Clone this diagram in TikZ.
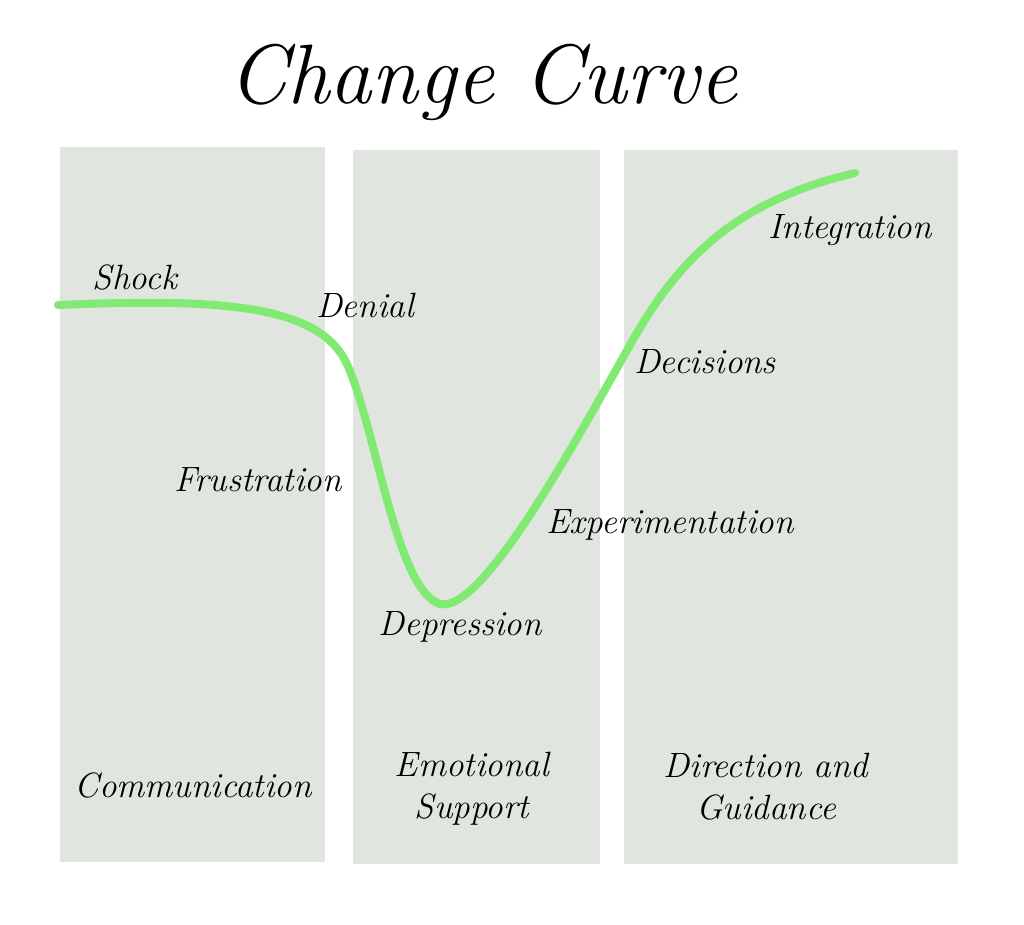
\documentclass[tikz,border=0pt]{standalone}
\begin{document}
\begin{tikzpicture}[x=0.02cm,y=-0.02cm,
  panel/.style={fill=panelc,draw=none},
  lbl/.style={font=\itshape\fontsize{20}{24}\selectfont,align=center},
  curve/.style={draw=curvec,line width=0.16cm,line cap=round}]
\definecolor{panelc}{HTML}{E1E5DF}
\definecolor{curvec}{HTML}{80EA72}
\useasboundingbox[fill=white] (0,0) rectangle (1024,924);
\fill[panel] (60,147) rectangle (325,862);
\fill[panel] (353,150) rectangle (600,864);
\fill[panel] (624,150) rectangle (958,864);
\node (title) at (483,82) {\itshape\fontsize{48}{54}\selectfont Change Curve};
\draw[curve] (58,305) .. controls (220,298) and (315,305) .. (345,360)
  .. controls (375,420) and (395,590) .. (440,604)
  .. controls (480,612) and (560,470) .. (630,345)
  .. controls (680,255) and (740,200) .. (855,173);
\node[lbl] (shock) at (135,277) {Shock};
\node[lbl] (denial) at (365,305) {Denial};
\node[lbl] (frus) at (258,480) {Frustration};
\node[lbl] (dep) at (460,627) {Depression};
\node[lbl] (exp) at (670,525) {Experimentation};
\node[lbl] (dec) at (705,362) {Decisions};
\node[lbl] (int) at (850,230) {Integration};
\node[lbl] (comm) at (193,785) {Communication};
\node[lbl] (emo) at (472,789) {Emotional\\Support};
\node[lbl] (dir) at (766,787) {Direction and\\Guidance};
\end{tikzpicture}
\end{document}
